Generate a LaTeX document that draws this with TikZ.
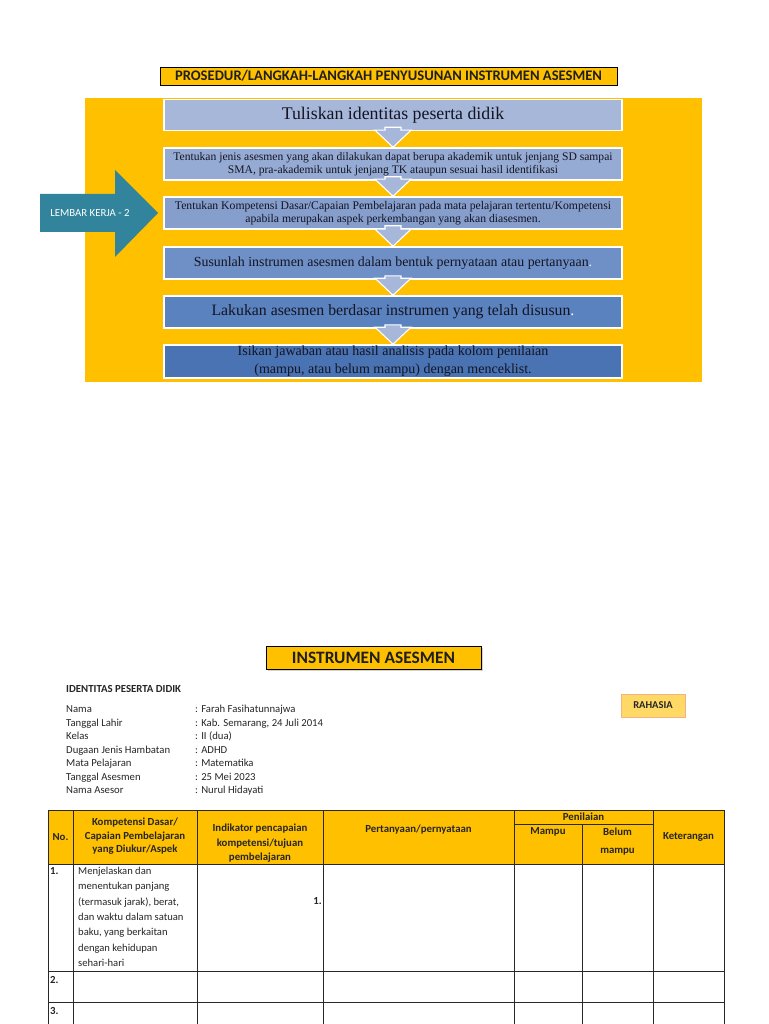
\documentclass[tikz,border=0pt]{standalone}
\usepackage{fontspec}
\setmainfont{Liberation Serif}
\setsansfont{Carlito}
\usetikzlibrary{calc,shadows}
\definecolor{gold}{HTML}{FFC000}
\definecolor{cA}{RGB}{166,183,217}
\definecolor{cB}{RGB}{150,171,211}
\definecolor{cC}{RGB}{133,158,204}
\definecolor{cD}{RGB}{111,144,198}
\definecolor{cE}{RGB}{90,130,191}
\definecolor{cF}{RGB}{73,115,178}
\definecolor{arrblue}{RGB}{166,183,217}
\definecolor{tealarr}{HTML}{31849B}
\definecolor{lightgold}{HTML}{FFD966}
\definecolor{goldedge}{HTML}{F4B183}
\definecolor{boxtext}{RGB}{20,20,35}
\definecolor{gridline}{RGB}{40,40,40}
\begin{document}
\begin{tikzpicture}[x=1pt,y=-1pt,
  flow/.style={draw=white, line width=1.6pt, minimum width=458, minimum height=32,
    align=center, inner sep=1, text=boxtext},
  downarr/.style={draw=white, line width=1.1pt, fill=arrblue, line join=miter},
  titlebox/.style={draw=black, line width=0.9pt, fill=gold, inner sep=0,
    font=\sffamily\bfseries, text=black!88},
  ident/.style={anchor=base west, inner sep=0, font=\sffamily\fontsize{10.7}{12}\selectfont, text=black!85},
  hdr/.style={align=center, inner sep=0, font=\sffamily\bfseries\fontsize{10.8}{13.5}\selectfont, text=black!85},
  cell/.style={inner sep=0, font=\sffamily\bfseries\fontsize{10.8}{12}\selectfont, text=black!85},
  grid/.style={draw=gridline, line width=1pt}
]
\useasboundingbox (0,0) rectangle (768,1024);
\fill[white] (0,0) rectangle (768,1024);

% ---------- top title
\node[titlebox, minimum width=457, minimum height=18, font=\sffamily\bfseries\fontsize{14.6}{16}\selectfont]
  (t1) at (388.5,76) {PROSEDUR/LANGKAH-LANGKAH PENYUSUNAN INSTRUMEN ASESMEN};

% ---------- orange panel
\fill[gold] (85,98) rectangle (702,382);

% ---------- flow boxes
\node[flow, fill=cA, minimum height=31, font=\fontsize{17.8}{19}\selectfont] (b1) at (393,115)
  {Tuliskan identitas peserta didik};
\node[flow, fill=cB, font=\fontsize{11.6}{13.5}\selectfont] (b2) at (393,164)
  {Tentukan jenis asesmen yang akan dilakukan dapat berupa akademik untuk jenjang SD sampai\\
   SMA, pra-akademik untuk jenjang TK ataupun sesuai hasil identifikasi};
\node[flow, fill=cC, font=\fontsize{11.7}{13.5}\selectfont] (b3) at (393,213)
  {Tentukan Kompetensi Dasar/Capaian Pembelajaran pada mata pelajaran tertentu/Kompetensi\\
   apabila merupakan aspek perkembangan yang akan diasesmen.};
\node[flow, fill=cD, font=\fontsize{13.9}{15}\selectfont] (b4) at (393,263)
  {Susunlah instrumen asesmen dalam bentuk pernyataan atau pertanyaan\textcolor{white}{.}};
\node[flow, fill=cE, font=\fontsize{15.8}{17}\selectfont] (b5) at (393,312)
  {Lakukan asesmen berdasar instrumen yang telah disusun\textcolor{white}{.}};
\node[flow, fill=cF, minimum height=33, font=\fontsize{14}{18}\selectfont] (b6) at (393,361.5)
  {Isikan jawaban atau hasil analisis pada kolom penilaian\\
   (mampu, atau belum mampu) dengan menceklist.};

% ---------- down arrows
\foreach \a/\b in {b1/b2,b2/b3,b3/b4,b4/b5,b5/b6}{
  \draw[downarr] ($(\a.south)+(-8,-4)$) -- ($(\a.south)+(8,-4)$) -- ($(\b.north)+(8,-17)$)
    -- ($(\b.north)+(18,-17)$) -- (\b.north) -- ($(\b.north)+(-18,-17)$)
    -- ($(\b.north)+(-8,-17)$) -- cycle;
}

% ---------- LEMBAR KERJA arrow
\fill[tealarr] (40,194) -- (115,194) -- (115,170) -- (158,213) -- (115,257) -- (115,232) -- (40,232) -- cycle;
\node[inner sep=0, text=white, font=\sffamily\fontsize{10.8}{12}\selectfont] (lk) at (90,213) {LEMBAR KERJA - 2};

% ---------- INSTRUMEN ASESMEN title
\node[titlebox, minimum width=215, minimum height=23, font=\sffamily\bfseries\fontsize{17.4}{19}\selectfont,
  drop shadow={opacity=0.35, shadow xshift=1.5pt, shadow yshift=-1.5pt}]
  (t2) at (373.5,657.5) {INSTRUMEN ASESMEN};

% ---------- RAHASIA
\node[draw=goldedge, line width=0.8pt, fill=lightgold, minimum width=64, minimum height=23, inner sep=0,
  font=\sffamily\bfseries\fontsize{10.5}{12}\selectfont, text=black!85,
  drop shadow={opacity=0.25, shadow xshift=1.2pt, shadow yshift=-1.2pt}]
  (rh) at (653,705.5) {RAHASIA};

% ---------- identity
\node[ident, font=\sffamily\bfseries\fontsize{10.8}{12}\selectfont] (idt) at (66,692.5) {IDENTITAS PESERTA DIDIK};
\node[ident] (l1) at (66,712.5) {Nama};
\node[ident] (v1) at (195,712.5) {: Farah Fasihatunnajwa};
\node[ident] (l2) at (66,726) {Tanggal Lahir};
\node[ident] (v2) at (195,726) {: Kab. Semarang, 24 Juli 2014};
\node[ident] (l3) at (66,739.5) {Kelas};
\node[ident] (v3) at (195,739.5) {: II (dua)};
\node[ident] (l4) at (66,753) {Dugaan Jenis Hambatan};
\node[ident] (v4) at (195,753) {: ADHD};
\node[ident] (l5) at (66,766.5) {Mata Pelajaran};
\node[ident] (v5) at (195,766.5) {: Matematika};
\node[ident] (l6) at (66,780) {Tanggal Asesmen};
\node[ident] (v6) at (195,780) {: 25 Mei 2023};
\node[ident] (l7) at (66,793.5) {Nama Asesor};
\node[ident] (v7) at (195,793.5) {: Nurul Hidayati};

% ---------- table
\fill[gold] (48,810) rectangle (724,864);
\draw[grid] (48,810) -- (724,810);
\draw[grid] (514,824) -- (653,824);
\draw[grid] (48,864) -- (724,864);
\draw[grid] (48,971) -- (724,971);
\draw[grid] (48,1002) -- (724,1002);
\foreach \xx in {48,73,197,323,514,653,724}{
  \draw[grid] (\xx,810) -- (\xx,1024);
}
\draw[grid] (582,824) -- (582,1024);

\node[hdr] (hno) at (60.5,837) {No.};
\node[hdr] (hkd) at (135,836.5) {Kompetensi Dasar/\\Capaian Pembelajaran\\yang Diukur/Aspek};
\node[hdr, font=\sffamily\bfseries\fontsize{10.8}{14.5}\selectfont] (hind) at (260,843.5) {Indikator pencapaian\\kompetensi/tujuan\\pembelajaran};
\node[hdr] (hper) at (418.5,829.5) {Pertanyaan/pernyataan};
\node[hdr] (hpen) at (583.5,816.5) {Penilaian};
\node[hdr] (hm) at (548,831.5) {Mampu};
\node[hdr, font=\sffamily\bfseries\fontsize{10.8}{18.5}\selectfont] (hb) at (617.5,841.5) {Belum\\mampu};
\node[hdr] (hk) at (688.5,837) {Keterangan};

\node[cell, anchor=base west] (n1) at (50,874) {1.};
\node[cell, anchor=base west] (n2) at (50,983) {2.};
\node[cell, anchor=base west] (n3) at (50,1014) {3.};
\node[cell, anchor=base east] (i1) at (322,904) {1.};
\node[inner sep=0, anchor=north west, align=left, text=black!85,
  font=\sffamily\fontsize{10.6}{15.3}\selectfont] (kd1) at (78,867)
  {Menjelaskan dan\\menentukan panjang\\(termasuk jarak), berat,\\dan waktu dalam satuan\\baku, yang berkaitan\\dengan kehidupan\\sehari-hari};
\end{tikzpicture}
\end{document}
